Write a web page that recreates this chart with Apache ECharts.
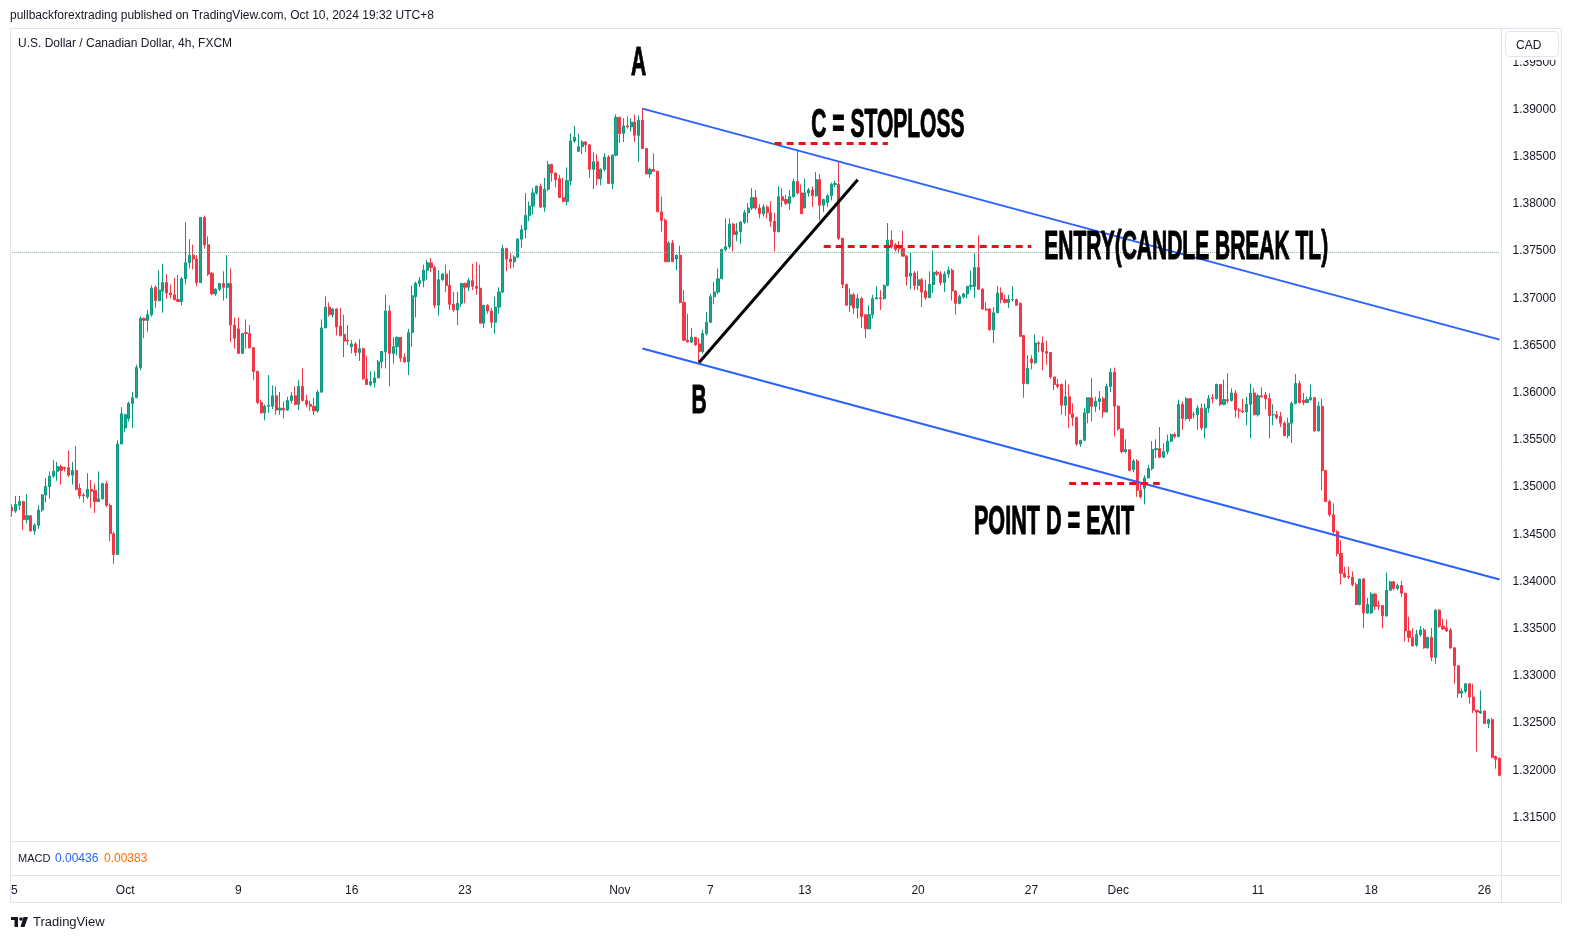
<!DOCTYPE html>
<html>
<head>
<meta charset="utf-8">
<title>USDCAD 4h</title>
<script src="https://cdn.jsdelivr.net/npm/echarts@6/dist/echarts.min.js"></script>
<style>
  html, body { margin: 0; padding: 0; background: #fff; }
  #chart { width: 1573px; height: 939px; }
</style>
</head>
<body>
<div id="chart"></div>
<script>
// 4h candles, one row per bar: [open, high, low, close]
const wk0925 = [
  [1.3476,1.3479,1.3466,1.3472],[1.3472,1.3488,1.3470,1.3479],[1.3478,1.3488,1.3473,1.3482],
  [1.3482,1.3483,1.3452,1.3463],[1.3463,1.3490,1.3459,1.3467],[1.3467,1.3467,1.3450,1.3451],
  [1.3451,1.3459,1.3447,1.3457],[1.3457,1.3478,1.3453,1.3473],[1.3473,1.3490,1.3471,1.3489],
  [1.3489,1.3507,1.3481,1.3498],[1.3498,1.3514,1.3485,1.3509],[1.3509,1.3526,1.3507,1.3514],
  [1.3514,1.3524,1.3504,1.3519],[1.3519,1.3521,1.3500,1.3515],[1.3518,1.3519,1.3514,1.3517],
  [1.3518,1.3536,1.3508,1.3510],[1.3510,1.3524,1.3500,1.3515],[1.3515,1.3541,1.3494,1.3495],
  [1.3496,1.3501,1.3485,1.3488],[1.3489,1.3491,1.3481,1.3488],[1.3487,1.3512,1.3485,1.3495],
  [1.3495,1.3505,1.3475,1.3493],[1.3494,1.3501,1.3470,1.3482],[1.3482,1.3514,1.3482,1.3485],
  [1.3485,1.3502,1.3484,1.3501],[1.3501,1.3504,1.3476,1.3478],[1.3478,1.3480,1.3440,1.3448],
  [1.3448,1.3450,1.3416,1.3426],[1.3426,1.3547,1.3426,1.3543],[1.3543,1.3582,1.3543,1.3575]
];
const wk1002 = [
  [1.3560,1.3575,1.3556,1.3574],[1.3570,1.3588,1.3567,1.3586],[1.3586,1.3598,1.3560,1.3592],
  [1.3592,1.3627,1.3592,1.3624],[1.3624,1.3678,1.3621,1.3676],[1.3676,1.3677,1.3655,1.3674],
  [1.3674,1.3685,1.3662,1.3680],[1.3680,1.3711,1.3678,1.3708],[1.3709,1.3711,1.3687,1.3695],
  [1.3695,1.3727,1.3694,1.3706],[1.3705,1.3734,1.3682,1.3714],[1.3714,1.3723,1.3697,1.3703],
  [1.3703,1.3712,1.3697,1.3701],[1.3701,1.3719,1.3695,1.3696],[1.3696,1.3722,1.3694,1.3694],
  [1.3694,1.3720,1.3690,1.3718],[1.3718,1.3778,1.3712,1.3735],[1.3735,1.3760,1.3729,1.3743],
  [1.3743,1.3754,1.3728,1.3739],[1.3739,1.3743,1.3710,1.3714],[1.3714,1.3783,1.3714,1.3783],
  [1.3783,1.3785,1.3750,1.3754],[1.3754,1.3763,1.3721,1.3723],[1.3724,1.3725,1.3701,1.3702],
  [1.3702,1.3708,1.3700,1.3707],[1.3707,1.3713,1.3705,1.3713],[1.3713,1.3726,1.3695,1.3709],
  [1.3709,1.3743,1.3697,1.3713],[1.3713,1.3729,1.3651,1.3669],[1.3669,1.3677,1.3644,1.3655]
];
const wk1009 = [
  [1.3665,1.3677,1.3639,1.3639],[1.3639,1.3660,1.3639,1.3660],[1.3661,1.3675,1.3644,1.3660],
  [1.3660,1.3669,1.3644,1.3645],[1.3645,1.3645,1.3611,1.3620],[1.3620,1.3620,1.3585,1.3587],
  [1.3587,1.3590,1.3575,1.3576],[1.3576,1.3585,1.3568,1.3583],[1.3583,1.3616,1.3576,1.3584],
  [1.3583,1.3605,1.3580,1.3594],[1.3594,1.3604,1.3574,1.3579],[1.3579,1.3598,1.3574,1.3581],
  [1.3581,1.3588,1.3570,1.3579],[1.3579,1.3593,1.3578,1.3589],[1.3589,1.3598,1.3586,1.3594],
  [1.3594,1.3604,1.3584,1.3585],[1.3585,1.3611,1.3579,1.3604],[1.3604,1.3623,1.3588,1.3589],
  [1.3589,1.3595,1.3582,1.3585],[1.3585,1.3589,1.3578,1.3583],[1.3583,1.3592,1.3574,1.3578],
  [1.3578,1.3600,1.3576,1.3598],[1.3598,1.3675,1.3597,1.3666],[1.3666,1.3699,1.3666,1.3688],
  [1.3688,1.3693,1.3678,1.3680],[1.3680,1.3687,1.3677,1.3686],[1.3686,1.3687,1.3658,1.3667],
  [1.3668,1.3687,1.3657,1.3658],[1.3659,1.3680,1.3635,1.3652],[1.3653,1.3669,1.3648,1.3652]
];
const wk1016 = [
  [1.3646,1.3653,1.3639,1.3649],[1.3649,1.3651,1.3636,1.3640],[1.3640,1.3654,1.3631,1.3644],
  [1.3644,1.3645,1.3611,1.3612],[1.3612,1.3636,1.3606,1.3606],[1.3606,1.3620,1.3604,1.3609],
  [1.3608,1.3620,1.3603,1.3613],[1.3613,1.3632,1.3613,1.3630],[1.3630,1.3641,1.3623,1.3641],
  [1.3641,1.3701,1.3623,1.3684],[1.3684,1.3690,1.3604,1.3639],[1.3639,1.3656,1.3628,1.3646],
  [1.3646,1.3657,1.3637,1.3656],[1.3656,1.3656,1.3630,1.3634],[1.3635,1.3639,1.3629,1.3630],
  [1.3630,1.3665,1.3616,1.3661],[1.3661,1.3711,1.3646,1.3700],[1.3699,1.3715,1.3677,1.3713],
  [1.3713,1.3720,1.3709,1.3716],[1.3716,1.3733,1.3709,1.3727],[1.3727,1.3738,1.3717,1.3735],
  [1.3735,1.3740,1.3725,1.3730],[1.3730,1.3732,1.3687,1.3690],[1.3690,1.3727,1.3679,1.3717],
  [1.3717,1.3724,1.3716,1.3723],[1.3723,1.3733,1.3704,1.3711],[1.3711,1.3727,1.3685,1.3691],
  [1.3691,1.3704,1.3683,1.3685],[1.3685,1.3704,1.3669,1.3692],[1.3692,1.3714,1.3688,1.3713]
];
const wk1023 = [
  [1.3713,1.3714,1.3692,1.3709],[1.3709,1.3719,1.3705,1.3716],[1.3716,1.3734,1.3706,1.3710],
  [1.3710,1.3736,1.3701,1.3708],[1.3708,1.3733,1.3671,1.3671],[1.3671,1.3690,1.3666,1.3690],
  [1.3690,1.3691,1.3681,1.3684],[1.3684,1.3687,1.3666,1.3672],[1.3672,1.3699,1.3660,1.3688],
  [1.3688,1.3709,1.3681,1.3704],[1.3704,1.3754,1.3703,1.3750],[1.3750,1.3751,1.3726,1.3739],
  [1.3739,1.3745,1.3729,1.3736],[1.3736,1.3743,1.3730,1.3741],[1.3741,1.3761,1.3740,1.3760],
  [1.3760,1.3775,1.3751,1.3770],[1.3770,1.3809,1.3761,1.3785],[1.3785,1.3800,1.3779,1.3795],
  [1.3795,1.3814,1.3786,1.3809],[1.3809,1.3817,1.3807,1.3816],[1.3816,1.3819,1.3793,1.3794],
  [1.3794,1.3825,1.3789,1.3813],[1.3813,1.3843,1.3811,1.3839],[1.3839,1.3840,1.3821,1.3830],
  [1.3830,1.3831,1.3815,1.3823],[1.3824,1.3828,1.3804,1.3804],[1.3804,1.3825,1.3799,1.3800],
  [1.3800,1.3836,1.3796,1.3822],[1.3822,1.3872,1.3817,1.3864],[1.3864,1.3880,1.3862,1.3868]
];
const wk1030 = [
  [1.3853,1.3872,1.3853,1.3858],[1.3858,1.3865,1.3850,1.3863],[1.3863,1.3864,1.3852,1.3860],
  [1.3860,1.3860,1.3825,1.3834],[1.3834,1.3852,1.3813,1.3842],[1.3842,1.3850,1.3817,1.3824],
  [1.3824,1.3835,1.3817,1.3834],[1.3834,1.3851,1.3832,1.3847],[1.3847,1.3849,1.3819,1.3819],
  [1.3819,1.3850,1.3813,1.3849],[1.3849,1.3892,1.3848,1.3889],[1.3889,1.3890,1.3862,1.3872],
  [1.3872,1.3888,1.3863,1.3880],[1.3880,1.3890,1.3877,1.3879],[1.3879,1.3888,1.3874,1.3884],
  [1.3884,1.3892,1.3863,1.3870],[1.3870,1.3891,1.3842,1.3886],[1.3886,1.3899,1.3856,1.3856],
  [1.3856,1.3856,1.3829,1.3829],[1.3829,1.3836,1.3825,1.3834],[1.3834,1.3851,1.3832,1.3832],
  [1.3832,1.3832,1.3789,1.3789],[1.3789,1.3805,1.3768,1.3780],[1.3780,1.3782,1.3736,1.3736],
  [1.3736,1.3758,1.3736,1.3756],[1.3756,1.3759,1.3736,1.3736],[1.3739,1.3744,1.3727,1.3743],
  [1.3743,1.3753,1.3692,1.3693],[1.3693,1.3706,1.3652,1.3653],[1.3653,1.3681,1.3651,1.3651]
];
const wk1106 = [
  [1.3651,1.3666,1.3650,1.3656],[1.3656,1.3656,1.3647,1.3648],[1.3649,1.3655,1.3629,1.3641],
  [1.3641,1.3664,1.3639,1.3660],[1.3660,1.3683,1.3658,1.3672],[1.3672,1.3702,1.3671,1.3699],
  [1.3699,1.3715,1.3691,1.3704],[1.3704,1.3729,1.3702,1.3718],[1.3718,1.3750,1.3718,1.3749],
  [1.3749,1.3782,1.3747,1.3752],[1.3752,1.3782,1.3750,1.3776],[1.3776,1.3777,1.3747,1.3765],
  [1.3765,1.3777,1.3758,1.3768],[1.3768,1.3779,1.3755,1.3778],[1.3778,1.3791,1.3776,1.3788],
  [1.3788,1.3798,1.3777,1.3793],[1.3793,1.3814,1.3791,1.3804],[1.3804,1.3812,1.3791,1.3793],
  [1.3793,1.3797,1.3782,1.3787],[1.3787,1.3797,1.3784,1.3794],[1.3794,1.3796,1.3782,1.3788],
  [1.3788,1.3800,1.3773,1.3779],[1.3779,1.3788,1.3747,1.3768],[1.3768,1.3816,1.3767,1.3805],
  [1.3805,1.3814,1.3794,1.3801],[1.3802,1.3807,1.3796,1.3798],[1.3798,1.3812,1.3791,1.3805],
  [1.3805,1.3824,1.3804,1.3821],[1.3821,1.3854,1.3807,1.3809],[1.3809,1.3818,1.3787,1.3787]
];
const wk1113 = [
  [1.3793,1.3824,1.3793,1.3809],[1.3809,1.3814,1.3805,1.3812],[1.3812,1.3816,1.3794,1.3806],
  [1.3806,1.3831,1.3805,1.3823],[1.3823,1.3829,1.3780,1.3796],[1.3796,1.3803,1.3789,1.3802],
  [1.3799,1.3808,1.3794,1.3806],[1.3806,1.3820,1.3801,1.3818],[1.3818,1.3822,1.3815,1.3819],
  [1.3818,1.3842,1.3759,1.3761],[1.3761,1.3761,1.3708,1.3712],[1.3712,1.3713,1.3690,1.3690],
  [1.3690,1.3708,1.3683,1.3701],[1.3701,1.3703,1.3681,1.3687],[1.3687,1.3702,1.3676,1.3697],
  [1.3697,1.3699,1.3666,1.3678],[1.3680,1.3681,1.3655,1.3665],[1.3665,1.3690,1.3665,1.3680],
  [1.3680,1.3701,1.3676,1.3697],[1.3697,1.3710,1.3696,1.3698],[1.3698,1.3706,1.3685,1.3697],
  [1.3697,1.3712,1.3696,1.3711],[1.3711,1.3777,1.3710,1.3759],[1.3759,1.3769,1.3750,1.3752],
  [1.3754,1.3756,1.3747,1.3749],[1.3752,1.3758,1.3745,1.3750],[1.3750,1.3769,1.3742,1.3742],
  [1.3742,1.3743,1.3711,1.3720],[1.3721,1.3746,1.3707,1.3724],[1.3724,1.3726,1.3706,1.3711]
];
const wk1120 = [
  [1.3711,1.3726,1.3706,1.3717],[1.3717,1.3719,1.3688,1.3704],[1.3705,1.3717,1.3696,1.3698],
  [1.3698,1.3726,1.3698,1.3712],[1.3712,1.3748,1.3703,1.3725],[1.3725,1.3727,1.3721,1.3723],
  [1.3723,1.3726,1.3711,1.3714],[1.3714,1.3726,1.3704,1.3723],[1.3723,1.3731,1.3719,1.3727],
  [1.3727,1.3729,1.3695,1.3705],[1.3705,1.3706,1.3680,1.3692],[1.3692,1.3701,1.3691,1.3699],
  [1.3699,1.3703,1.3697,1.3702],[1.3702,1.3710,1.3697,1.3710],[1.3710,1.3727,1.3706,1.3711],
  [1.3710,1.3745,1.3698,1.3730],[1.3730,1.3764,1.3706,1.3707],[1.3707,1.3708,1.3685,1.3686],
  [1.3686,1.3693,1.3684,1.3685],[1.3686,1.3687,1.3663,1.3664],[1.3664,1.3688,1.3650,1.3682],
  [1.3682,1.3710,1.3682,1.3703],[1.3703,1.3709,1.3692,1.3696],[1.3696,1.3701,1.3692,1.3693],
  [1.3693,1.3701,1.3687,1.3696],[1.3696,1.3710,1.3694,1.3696],[1.3696,1.3697,1.3690,1.3690],
  [1.3692,1.3693,1.3657,1.3657],[1.3658,1.3658,1.3592,1.3607],[1.3607,1.3637,1.3606,1.3623]
];
const wk1127 = [
  [1.3633,1.3637,1.3622,1.3629],[1.3629,1.3659,1.3628,1.3650],[1.3650,1.3652,1.3640,1.3649],
  [1.3650,1.3657,1.3621,1.3641],[1.3641,1.3652,1.3627,1.3639],[1.3640,1.3640,1.3612,1.3614],
  [1.3614,1.3614,1.3600,1.3606],[1.3606,1.3612,1.3602,1.3604],[1.3606,1.3607,1.3574,1.3584],
  [1.3584,1.3611,1.3573,1.3593],[1.3593,1.3606,1.3560,1.3575],[1.3575,1.3586,1.3562,1.3571],
  [1.3571,1.3572,1.3541,1.3543],[1.3543,1.3547,1.3540,1.3547],[1.3547,1.3581,1.3546,1.3576],
  [1.3576,1.3592,1.3565,1.3592],[1.3592,1.3613,1.3567,1.3583],[1.3583,1.3593,1.3577,1.3588],
  [1.3588,1.3599,1.3579,1.3591],[1.3591,1.3593,1.3571,1.3577],[1.3577,1.3607,1.3576,1.3604],
  [1.3604,1.3623,1.3598,1.3619],[1.3619,1.3624,1.3551,1.3583],[1.3583,1.3584,1.3557,1.3559],
  [1.3559,1.3559,1.3533,1.3535],[1.3535,1.3548,1.3533,1.3537],[1.3537,1.3537,1.3514,1.3515],
  [1.3516,1.3527,1.3513,1.3525],[1.3525,1.3527,1.3487,1.3494],[1.3494,1.3503,1.3485,1.3487]
];
const wk1204 = [
  [1.3496,1.3510,1.3479,1.3507],[1.3507,1.3521,1.3507,1.3517],[1.3517,1.3546,1.3515,1.3537],
  [1.3537,1.3548,1.3528,1.3538],[1.3538,1.3561,1.3528,1.3529],[1.3529,1.3544,1.3528,1.3535],
  [1.3535,1.3553,1.3532,1.3546],[1.3546,1.3554,1.3545,1.3553],[1.3553,1.3555,1.3549,1.3551],
  [1.3551,1.3590,1.3550,1.3585],[1.3585,1.3588,1.3558,1.3570],[1.3570,1.3593,1.3568,1.3591],
  [1.3591,1.3591,1.3567,1.3570],[1.3574,1.3577,1.3570,1.3574],[1.3574,1.3584,1.3558,1.3581],
  [1.3581,1.3586,1.3558,1.3560],[1.3560,1.3586,1.3549,1.3581],[1.3581,1.3595,1.3576,1.3591],
  [1.3592,1.3596,1.3586,1.3591],[1.3591,1.3607,1.3590,1.3606],[1.3606,1.3606,1.3583,1.3585],
  [1.3585,1.3611,1.3584,1.3590],[1.3590,1.3618,1.3586,1.3589],[1.3589,1.3602,1.3588,1.3597],
  [1.3597,1.3600,1.3571,1.3579],[1.3579,1.3581,1.3570,1.3578],[1.3578,1.3591,1.3576,1.3577],
  [1.3577,1.3593,1.3563,1.3585],[1.3585,1.3607,1.3549,1.3597],[1.3597,1.3602,1.3574,1.3574]
];
const wk1211 = [
  [1.3574,1.3596,1.3572,1.3594],[1.3594,1.3603,1.3592,1.3593],[1.3595,1.3598,1.3580,1.3591],
  [1.3591,1.3597,1.3549,1.3573],[1.3574,1.3585,1.3563,1.3574],[1.3574,1.3578,1.3569,1.3571],
  [1.3572,1.3577,1.3561,1.3565],[1.3565,1.3567,1.3551,1.3552],[1.3552,1.3571,1.3549,1.3565],
  [1.3565,1.3588,1.3544,1.3586],[1.3586,1.3617,1.3585,1.3607],[1.3607,1.3610,1.3586,1.3587],
  [1.3589,1.3597,1.3584,1.3587],[1.3587,1.3593,1.3587,1.3590],[1.3590,1.3606,1.3589,1.3592],
  [1.3592,1.3593,1.3556,1.3557],[1.3557,1.3588,1.3556,1.3583],[1.3583,1.3591,1.3494,1.3515],
  [1.3515,1.3515,1.3482,1.3482],[1.3482,1.3484,1.3466,1.3468],[1.3468,1.3480,1.3448,1.3450],
  [1.3450,1.3452,1.3424,1.3427],[1.3427,1.3441,1.3394,1.3406],[1.3406,1.3413,1.3401,1.3402],
  [1.3403,1.3413,1.3400,1.3402],[1.3402,1.3408,1.3392,1.3394],[1.3394,1.3396,1.3372,1.3373],
  [1.3373,1.3400,1.3372,1.3400],[1.3400,1.3401,1.3348,1.3364],[1.3364,1.3380,1.3363,1.3373]
];
const wk1218 = [
  [1.3364,1.3386,1.3363,1.3384],[1.3384,1.3385,1.3367,1.3371],[1.3372,1.3377,1.3367,1.3371],
  [1.3372,1.3372,1.3348,1.3361],[1.3361,1.3407,1.3360,1.3388],[1.3388,1.3398,1.3388,1.3397],
  [1.3397,1.3398,1.3388,1.3390],[1.3390,1.3395,1.3388,1.3393],[1.3393,1.3398,1.3381,1.3385],
  [1.3385,1.3385,1.3334,1.3345],[1.3345,1.3360,1.3333,1.3338],[1.3338,1.3348,1.3329,1.3329],
  [1.3330,1.3346,1.3328,1.3341],[1.3341,1.3350,1.3339,1.3346],[1.3346,1.3348,1.3326,1.3327],
  [1.3327,1.3339,1.3326,1.3338],[1.3338,1.3348,1.3313,1.3317],[1.3317,1.3368,1.3310,1.3367],
  [1.3367,1.3368,1.3348,1.3350],[1.3350,1.3358,1.3346,1.3347],[1.3348,1.3357,1.3344,1.3345],
  [1.3346,1.3348,1.3326,1.3327],[1.3327,1.3328,1.3289,1.3308],[1.3308,1.3309,1.3274,1.3279],
  [1.3279,1.3284,1.3274,1.3281],[1.3281,1.3289,1.3279,1.3289],[1.3289,1.3289,1.3268,1.3275],
  [1.3275,1.3289,1.3258,1.3261],[1.3261,1.3261,1.3217,1.3259],[1.3258,1.3282,1.3257,1.3260]
];
const wk1226 = [
  [1.3260,1.3261,1.3247,1.3247],[1.3247,1.3252,1.3242,1.3251],[1.3251,1.3253,1.3210,1.3211],
  [1.3212,1.3213,1.3199,1.3209],[1.3210,1.3211,1.3191,1.3192]
];

// trading days (2023) – each gets six 4h bars, the last one after midnight
const tradingDays = ('09-25 09-26 09-27 09-28 09-29 10-02 10-03 10-04 10-05 10-06 ' +
  '10-09 10-10 10-11 10-12 10-13 10-16 10-17 10-18 10-19 10-20 10-23 10-24 10-25 10-26 10-27 ' +
  '10-30 10-31 11-01 11-02 11-03 11-06 11-07 11-08 11-09 11-10 11-13 11-14 11-15 11-16 11-17 ' +
  '11-20 11-21 11-22 11-23 11-24 11-27 11-28 11-29 11-30 12-01 12-04 12-05 12-06 12-07 12-08 ' +
  '12-11 12-12 12-13 12-14 12-15 12-18 12-19 12-20 12-21 12-22 12-26').split(' ').map(d => '2023-' + d);
const barHours = ['05:00', '09:00', '13:00', '17:00', '21:00', '01:00'];

// time-axis labels: calendar date -> text ("25" is clipped to "5" at the pane edge)
const timeLabels = [
  ['2023-09-25', '5'], ['2023-10-02', 'Oct'], ['2023-10-09', '9'], ['2023-10-16', '16'],
  ['2023-10-23', '23'], ['2023-11-01', 'Nov'], ['2023-11-07', '7'], ['2023-11-13', '13'],
  ['2023-11-20', '20'], ['2023-11-27', '27'], ['2023-12-01', 'Dec'], ['2023-12-11', '11'],
  ['2023-12-18', '18'], ['2023-12-26', '26']
];
const priceTicks = [1.315, 1.32, 1.325, 1.33, 1.335, 1.34, 1.345, 1.35, 1.355, 1.36,
  1.365, 1.37, 1.375, 1.38, 1.385, 1.39, 1.395];

// drawings, in [bar index, price]
const channelTop = [[167, 1.38983], [394, 1.36536]];
const channelBottom = [[167, 1.36441], [394, 1.33994]];
const legBC = [[182, 1.36294], [224, 1.38230]];
const stopLevel = [[202, 1.3862], [232, 1.3862]];
const entryLevel = [[215, 1.3752], [270, 1.3752]];
const exitLevel = [[280, 1.3501], [304, 1.3501]];
const priceLine = [[0, 1.3746], [394, 1.3746]];
const notes = [
  ['A', 165.7, 1.3946],
  ['B', 182.2, 1.3588],
  ['C = STOPLOSS', 232, 1.3880],
  ['ENTRY(CANDLE BREAK TL)', 311.3, 1.3751],
  ['POINT D = EXIT', 276.2, 1.3459]
];

const candles = [].concat(wk0925, wk1002, wk1009, wk1016, wk1023, wk1030, wk1106,
  wk1113, wk1120, wk1127, wk1204, wk1211, wk1218, wk1226);

function nextDay(d) {
  const t = new Date(d + 'T00:00:00Z');
  t.setUTCDate(t.getUTCDate() + 1);
  return t.toISOString().slice(0, 10);
}
const categories = [];
tradingDays.forEach(d => {
  barHours.forEach(h => categories.push((h === '01:00' ? nextDay(d) : d) + ' ' + h));
});
categories.length = candles.length;

const labelAt = new Map();
timeLabels.forEach(([date, text]) => {
  const i = categories.findIndex(c => c.slice(0, 10) === date);
  if (i >= 0) labelAt.set(i, text);
});

const UI_FONT = '"Liberation Sans", Arial, sans-serif';
const TEXT = '#131722';
const FRAME = '#e0e3eb';

const seg = (pts, style) => [{ coord: pts[0], lineStyle: style }, { coord: pts[1] }];
const blue = { color: '#2962ff', width: 2, type: 'solid' };
const redDash = { color: '#e3151b', width: 3, type: [7, 5] };

const chart = echarts.init(document.getElementById('chart'));
chart.setOption({
  animation: false,
  backgroundColor: '#ffffff',
  grid: { left: 10, right: 71.5, top: 28, height: 810 },
  xAxis: {
    type: 'category',
    data: categories,
    boundaryGap: true,
    axisLine: { show: false },
    axisTick: { show: false },
    splitLine: { show: false },
    axisLabel: {
      interval: i => labelAt.has(i),
      // first label is the tail of a clipped "25", so nudge it right
      formatter: (v, i) => (i === 0 ? '{edge|' + labelAt.get(i) + '}' : labelAt.get(i) || ''),
      rich: { edge: { padding: [0, 0, 0, 5], fontSize: 12, color: TEXT, fontFamily: UI_FONT } },
      margin: 47,
      color: TEXT,
      fontSize: 12,
      fontFamily: UI_FONT
    }
  },
  yAxis: {
    type: 'value',
    position: 'right',
    min: 1.31256,
    max: 1.39837,
    axisLine: { show: false },
    axisTick: { show: false },
    splitLine: { show: false },
    axisLabel: {
      customValues: priceTicks,
      formatter: v => v.toFixed(5),
      margin: 11,
      align: 'left',
      verticalAlign: 'top',
      lineHeight: 5,
      color: TEXT,
      fontSize: 12,
      fontFamily: UI_FONT
    }
  },
  series: [{
    type: 'candlestick',
    data: candles.map(([o, h, l, c]) => [o, c, l, h]),
    barWidth: 2.6,
    itemStyle: {
      color: '#22a58b', borderColor: '#089981',
      color0: '#f23645', borderColor0: '#f23645',
      borderWidth: 1
    },
    markLine: {
      silent: true,
      symbol: ['none', 'none'],
      label: { show: false },
      data: [
        seg(priceLine, { color: '#8aa89c', width: 1, type: 'dotted' }),
        seg(channelTop, blue),
        seg(channelBottom, blue),
        seg(legBC, { color: '#000000', width: 3, type: 'solid' }),
        seg(stopLevel, redDash),
        seg(entryLevel, redDash),
        seg(exitLevel, redDash)
      ]
    }
  }]
});

// chrome: frame, header texts, legend, logo
const txt = (x, y, text, fill, size) => ({
  type: 'text', z: 101, x, y,
  style: { text, font: (size || 12) + 'px ' + UI_FONT, fill: fill || TEXT, textVerticalAlign: 'middle' }
});
const graphics = [
  { type: 'rect', z: 50, shape: { x: 10.5, y: 28.5, width: 1551, height: 874 }, style: { fill: null, stroke: FRAME, lineWidth: 1 } },
  { type: 'line', z: 50, shape: { x1: 10, y1: 841.5, x2: 1562, y2: 841.5 }, style: { stroke: FRAME, lineWidth: 1 } },
  { type: 'line', z: 50, shape: { x1: 10, y1: 875.5, x2: 1562, y2: 875.5 }, style: { stroke: FRAME, lineWidth: 1 } },
  { type: 'line', z: 50, shape: { x1: 1501.5, y1: 28, x2: 1501.5, y2: 903 }, style: { stroke: FRAME, lineWidth: 1 } },
  { type: 'rect', z: 99, shape: { x: 1502, y: 29, width: 59, height: 31 }, style: { fill: '#ffffff' } },
  { type: 'rect', z: 100, shape: { x: 1505.5, y: 31.5, width: 53, height: 25, r: 4 }, style: { fill: '#ffffff', stroke: FRAME, lineWidth: 1 } },
  txt(1516, 46, 'CAD'),
  txt(10, 16, 'pullbackforextrading published on TradingView.com, Oct 10, 2024 19:32 UTC+8'),
  txt(18, 44, 'U.S. Dollar / Canadian Dollar, 4h, FXCM'),
  txt(18, 859, 'MACD', TEXT, 11),
  txt(55, 859, '0.00436', '#2962ff'),
  txt(104, 859, '0.00383', '#ff6d00'),
  { type: 'rect', z: 101, shape: { x: 11, y: 917, width: 7, height: 3 }, style: { fill: TEXT } },
  { type: 'rect', z: 101, shape: { x: 14.5, y: 917, width: 3.5, height: 10 }, style: { fill: TEXT } },
  { type: 'circle', z: 101, shape: { cx: 21, cy: 919, r: 1.8 }, style: { fill: TEXT } },
  { type: 'polygon', z: 101, shape: { points: [[23.5, 917], [28, 917], [24.5, 927], [20.5, 927]] }, style: { fill: TEXT } },
  txt(33, 922, 'TradingView', TEXT, 13)
];

// hand-drawn labels, anchored in data space
notes.forEach(([text, idx, price]) => {
  const p = chart.convertToPixel({ gridIndex: 0 }, [idx, price]);
  graphics.push({
    type: 'text', z: 120, x: p[0], y: p[1], scaleX: text === 'POINT D = EXIT' ? 0.54 : 0.525,
    style: {
      text, font: 'bold 40px "Liberation Sans", Arial, sans-serif',
      fill: '#000000', stroke: '#000000', lineWidth: 1,
      textAlign: 'center', textVerticalAlign: 'middle'
    }
  });
});
chart.setOption({ graphic: graphics });
</script>
</body>
</html>
